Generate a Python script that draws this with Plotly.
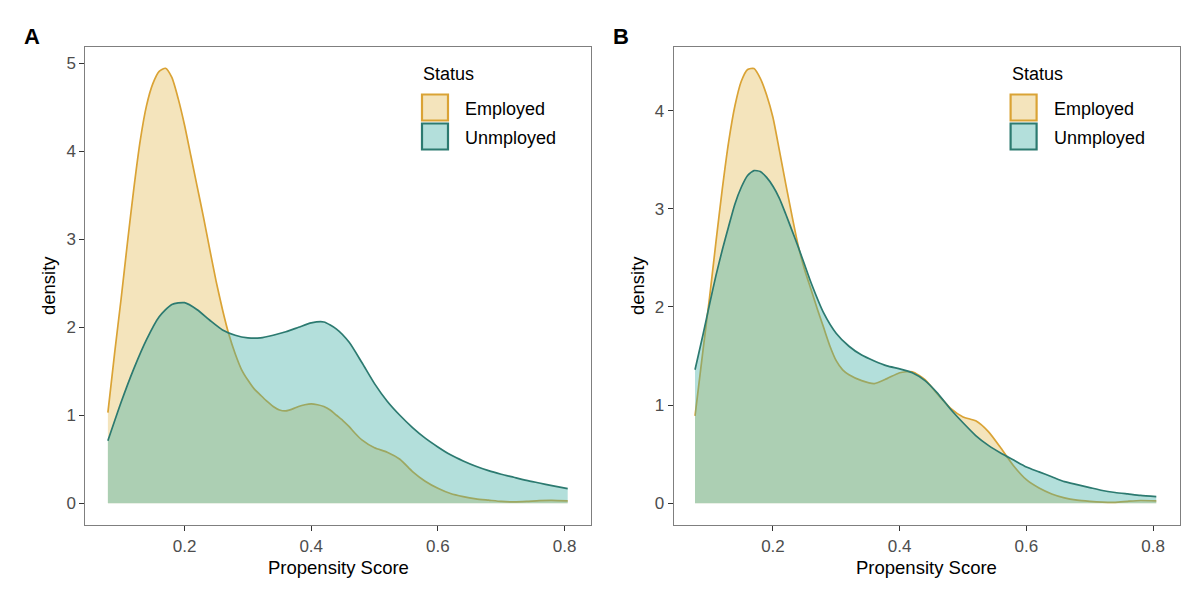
import plotly.graph_objects as go

# Panel A - density of propensity score by status
a_emp_x = [0.079, 0.09, 0.10, 0.11, 0.12, 0.13, 0.14, 0.15, 0.16, 0.17, 0.18, 0.19, 0.20,
           0.21, 0.22, 0.23, 0.24, 0.25, 0.26, 0.27, 0.28, 0.29, 0.30, 0.31, 0.32, 0.33,
           0.34, 0.35, 0.36, 0.37, 0.38, 0.39, 0.40, 0.41, 0.42, 0.43, 0.44, 0.45, 0.46,
           0.47, 0.48, 0.50, 0.52, 0.54, 0.56, 0.58, 0.60, 0.62, 0.64, 0.66, 0.68, 0.70,
           0.72, 0.74, 0.76, 0.78, 0.805]
a_emp_d = [1.03, 1.73, 2.33, 2.97, 3.58, 4.12, 4.52, 4.77, 4.91, 4.945, 4.84, 4.60, 4.30,
           3.95, 3.60, 3.25, 2.88, 2.52, 2.20, 1.92, 1.70, 1.52, 1.40, 1.30, 1.23, 1.16,
           1.10, 1.06, 1.05, 1.07, 1.10, 1.12, 1.13, 1.12, 1.10, 1.06, 1.00, 0.94, 0.87,
           0.79, 0.72, 0.63, 0.58, 0.50, 0.36, 0.25, 0.17, 0.11, 0.075, 0.05, 0.035, 0.02,
           0.015, 0.02, 0.03, 0.033, 0.026]

a_unemp_x = [0.079, 0.10, 0.12, 0.14, 0.16, 0.18, 0.20, 0.22, 0.24, 0.26, 0.28, 0.30, 0.32,
             0.34, 0.36, 0.38, 0.40, 0.42, 0.44, 0.46, 0.48, 0.50, 0.52, 0.54, 0.56, 0.58,
             0.60, 0.62, 0.64, 0.66, 0.68, 0.70, 0.72, 0.74, 0.76, 0.78, 0.805]
a_unemp_d = [0.71, 1.15, 1.53, 1.86, 2.12, 2.26, 2.28, 2.20, 2.08, 1.97, 1.91, 1.88, 1.88,
             1.91, 1.95, 2.00, 2.05, 2.06, 1.98, 1.83, 1.60, 1.36, 1.16, 1.00, 0.86, 0.74,
             0.64, 0.55, 0.48, 0.42, 0.37, 0.33, 0.295, 0.26, 0.23, 0.20, 0.166]

# Panel B
b_emp_x = [0.077, 0.09, 0.10, 0.11, 0.12, 0.13, 0.14, 0.15, 0.16, 0.17, 0.18, 0.19, 0.20,
           0.21, 0.22, 0.23, 0.24, 0.25, 0.26, 0.27, 0.28, 0.29, 0.30, 0.31, 0.32, 0.34,
           0.36, 0.38, 0.40, 0.42, 0.44, 0.46, 0.48, 0.50, 0.52, 0.54, 0.56, 0.58, 0.60,
           0.62, 0.64, 0.66, 0.68, 0.70, 0.72, 0.74, 0.76, 0.78, 0.805]
b_emp_d = [0.89, 1.58, 2.10, 2.66, 3.20, 3.68, 4.05, 4.30, 4.42, 4.43, 4.33, 4.16, 3.93,
           3.60, 3.26, 2.93, 2.62, 2.38, 2.18, 1.98, 1.79, 1.60, 1.45, 1.36, 1.31, 1.25,
           1.22, 1.27, 1.33, 1.34, 1.26, 1.11, 0.97, 0.88, 0.84, 0.73, 0.56, 0.38, 0.24,
           0.155, 0.095, 0.055, 0.032, 0.02, 0.012, 0.01, 0.02, 0.028, 0.024]

b_unemp_x = [0.077, 0.09, 0.10, 0.11, 0.12, 0.13, 0.14, 0.15, 0.16, 0.17, 0.18, 0.19, 0.20,
             0.21, 0.22, 0.23, 0.24, 0.25, 0.26, 0.28, 0.30, 0.32, 0.34, 0.36, 0.38, 0.40,
             0.42, 0.44, 0.46, 0.48, 0.50, 0.52, 0.54, 0.56, 0.58, 0.60, 0.62, 0.64, 0.66,
             0.68, 0.70, 0.72, 0.74, 0.76, 0.78, 0.805]
b_unemp_d = [1.36, 1.73, 2.03, 2.32, 2.58, 2.82, 3.05, 3.22, 3.34, 3.39, 3.38, 3.32, 3.23,
             3.11, 2.95, 2.78, 2.61, 2.43, 2.25, 1.94, 1.73, 1.60, 1.51, 1.45, 1.40, 1.37,
             1.33, 1.25, 1.12, 0.96, 0.82, 0.69, 0.59, 0.51, 0.44, 0.37, 0.32, 0.27, 0.22,
             0.19, 0.16, 0.13, 0.11, 0.095, 0.08, 0.068]

x_ticks = [0.2, 0.4, 0.6, 0.8]
groups = ["Employed", "Unmployed"]

W, H = 1200, 599
OFF = 8  # page body margin
FONT = "Liberation Sans, Arial, Helvetica, sans-serif"
EMP_LINE = "#DAA335"
EMP_FILL = "rgba(218,165,32,0.30)"
UNE_LINE = "#2C7A70"
UNE_FILL = "rgba(64,176,166,0.40)"


def px(x):
    return (x - OFF) / W


def py(y):
    return 1 - (y - OFF) / H


fig = go.Figure()

panels = [
    ("x", "y", a_emp_x, a_emp_d, a_unemp_x, a_unemp_d),
    ("x2", "y2", b_emp_x, b_emp_d, b_unemp_x, b_unemp_d),
]
for xa, ya, ex, ed, ux, ud in panels:
    fig.add_trace(go.Scatter(x=ex, y=ed, xaxis=xa, yaxis=ya, mode="lines",
                             line=dict(color=EMP_LINE, width=1.7, shape="spline", smoothing=0.6),
                             fill="tozeroy", fillcolor=EMP_FILL, name=groups[0], showlegend=False))
    fig.add_trace(go.Scatter(x=ux, y=ud, xaxis=xa, yaxis=ya, mode="lines",
                             line=dict(color=UNE_LINE, width=1.7, shape="spline", smoothing=0.6),
                             fill="tozeroy", fillcolor=UNE_FILL, name=groups[1], showlegend=False))

axis_common = dict(showline=True, mirror=True, linecolor="#7f7f7f", linewidth=1.2,
                   ticks="outside", ticklen=5, tickwidth=1.2, tickcolor="#333333",
                   showgrid=False, zeroline=False,
                   tickfont=dict(family=FONT, size=17, color="#4d4d4d"))

fig.update_layout(
    width=W, height=H,
    margin=dict(l=0, r=0, t=0, b=0),
    paper_bgcolor="white", plot_bgcolor="white",
    showlegend=False,
    xaxis=dict(domain=[px(85.4), px(591)], range=[0.0435, 0.8418], anchor="y",
               tickvals=x_ticks, tickformat=".1f", **axis_common),
    yaxis=dict(domain=[py(525), py(46.7)], range=[-0.2475, 5.19], anchor="x",
               tickvals=[0, 1, 2, 3, 4, 5], **axis_common),
    xaxis2=dict(domain=[px(673.8), px(1179.6)], range=[0.0435, 0.8418], anchor="y2",
                tickvals=x_ticks, tickformat=".1f", **axis_common),
    yaxis2=dict(domain=[py(525), py(46.7)], range=[-0.2215, 4.652], anchor="x2",
                tickvals=[0, 1, 2, 3, 4], **axis_common),
)


def text(t, x, y, size, xanchor="center", angle=0):
    return dict(text=t, x=px(x), y=py(y), xref="paper", yref="paper", showarrow=False,
                xanchor=xanchor, yanchor="middle", textangle=angle,
                font=dict(family=FONT, size=size, color="black"))


annotations = []
shapes = []
for label, cx, box_center, ylab_x, leg_x in [("A", 32, 338.2, 49, 421),
                                              ("B", 621, 926.7, 638, 1009.6)]:
    annotations.append(text("<b>%s</b>" % label, cx, 36, 22))
    annotations.append(text("Propensity Score", box_center, 567, 18.5))
    annotations.append(text("density", ylab_x, 286, 18.5, angle=-90))
    # legend
    annotations.append(text("Status", leg_x, 74, 18, xanchor="left"))
    for i, (g, lc, fc) in enumerate([(groups[0], EMP_LINE, EMP_FILL), (groups[1], UNE_LINE, UNE_FILL)]):
        top = 94.5 + i * 29
        shapes.append(dict(type="rect", xref="paper", yref="paper",
                           x0=px(leg_x + 1), x1=px(leg_x + 27), y0=py(top + 26), y1=py(top),
                           line=dict(color=lc, width=2.2), fillcolor=fc))
        annotations.append(text(g, leg_x + 42, top + 14, 18, xanchor="left"))

fig.update_layout(annotations=annotations, shapes=shapes)

fig.write_html("out.html")
